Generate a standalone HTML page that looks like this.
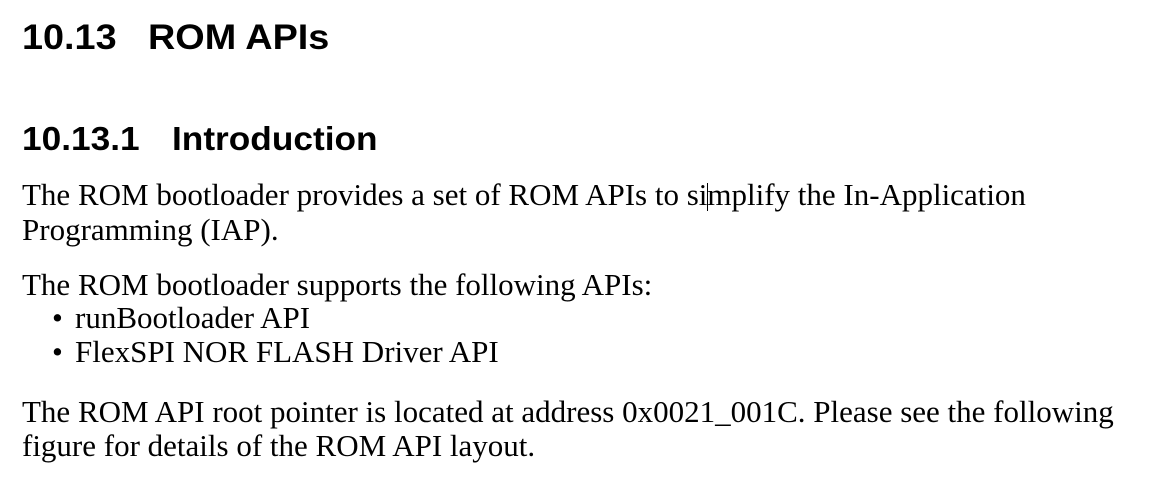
<!DOCTYPE html>
<html><head><meta charset="utf-8"><style>
html,body{margin:0;padding:0;background:#fff;width:1149px;height:478px;overflow:hidden;position:relative}
.h{position:absolute;font-family:"Liberation Sans",sans-serif;font-weight:bold;line-height:1;white-space:nowrap;color:#000;transform-origin:0 0}
.t{position:absolute;font-family:"Liberation Serif",serif;font-size:31px;line-height:30px;white-space:nowrap;color:#000}
</style></head><body>
<div class="h" style="left:22px;top:20px;font-size:35px;transform:scaleX(1.08)">10.13</div>
<div class="h" style="left:148px;top:20px;font-size:35px;transform:scaleX(1.08)">ROM APIs</div>
<div class="h" style="left:22px;top:122px;font-size:33px;transform:scaleX(1.068)">10.13.1</div>
<div class="h" style="left:172px;top:122px;font-size:33px;transform:scaleX(1.068)">Introduction</div>
<div class="t" style="left:22px;top:180px">The ROM bootloader provides a set of ROM APIs to simplify the In-Application</div>
<div style="position:absolute;left:707px;top:183px;width:1px;height:28px;background:#000"></div>
<div class="t" style="left:22px;top:215px">Programming (IAP).</div>
<div class="t" style="left:22px;top:270px">The ROM bootloader supports the following APIs:</div>
<div class="t" style="left:52px;top:303px">•</div>
<div class="t" style="left:75px;top:303px">runBootloader API</div>
<div class="t" style="left:52px;top:337px">•</div>
<div class="t" style="left:75px;top:337px">FlexSPI NOR FLASH Driver API</div>
<div class="t" style="left:22px;top:397px">The ROM API root pointer is located at address 0x0021_001C. Please see the following</div>
<div class="t" style="left:22px;top:431px">figure for details of the ROM API layout.</div>
</body></html>
